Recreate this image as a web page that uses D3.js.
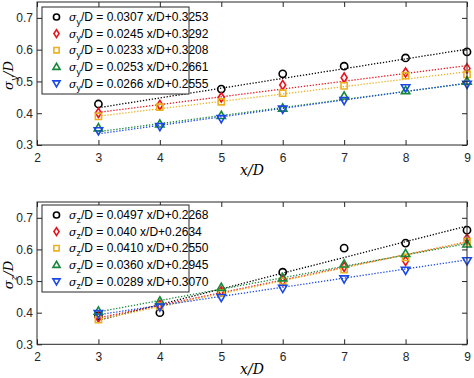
<!DOCTYPE html>
<html><head><meta charset="utf-8">
<script src="https://cdn.jsdelivr.net/npm/d3@7"></script>
<style>body{margin:0;background:#fff}svg{display:block}</style>
</head><body>
<svg id="c" width="474" height="378"></svg>
<script>
const xs = [3, 4, 5, 6, 7, 8, 9];
const xTicks = [2, 3, 4, 5, 6, 7, 8, 9];
const yTicks = [0.3, 0.4, 0.5, 0.6, 0.7];

// sigma_y / D
const syBlack  = [0.429, 0.480, 0.476, 0.524, 0.548, 0.574, 0.593];
const syRed    = [0.401, 0.426, 0.450, 0.489, 0.512, 0.528, 0.541];
const syYellow = [0.390, 0.419, 0.436, 0.463, 0.486, 0.518, 0.522];
const syGreen  = [0.354, 0.366, 0.393, 0.416, 0.454, 0.471, 0.501];
const syBlue   = [0.345, 0.358, 0.383, 0.413, 0.440, 0.480, 0.491];
const syFitSlope = [0.0307, 0.0245, 0.0233, 0.0253, 0.0266];
const syFitIcpt  = [0.3253, 0.3292, 0.3208, 0.2661, 0.2555];
const syLegend = ["0.0307 x/D+0.3253", "0.0245 x/D+0.3292", "0.0233 x/D+0.3208", "0.0253 x/D+0.2661", "0.0266 x/D+0.2555"];

// sigma_z / D
const szBlack  = [0.390, 0.400, 0.465, 0.528, 0.604, 0.620, 0.661];
const szRed    = [0.385, 0.424, 0.468, 0.500, 0.545, 0.564, 0.634];
const szYellow = [0.378, 0.420, 0.463, 0.500, 0.536, 0.575, 0.625];
const szGreen  = [0.405, 0.437, 0.480, 0.510, 0.554, 0.587, 0.617];
const szBlue   = [0.397, 0.418, 0.448, 0.477, 0.507, 0.534, 0.564];
const szFitSlope = [0.0497, 0.040, 0.0410, 0.0360, 0.0289];
const szFitIcpt  = [0.2268, 0.2634, 0.2550, 0.2945, 0.3070];
const szLegend = ["0.0497 x/D+0.2268", "0.040 x/D+0.2634", "0.0410 x/D+0.2550", "0.0360 x/D+0.2945", "0.0289 x/D+0.3070"];

const colors = ["#000000", "#e8141c", "#edb120", "#17873a", "#1a48e6"];
const shapes = ["circle", "diamond", "square", "triUp", "triDown"];

const svg = d3.select("#c");
const axisCol = "#262626";

function marker(g, shape, cx, cy, s, col) {
  let el;
  if (shape === "circle") {
    el = g.append("circle").attr("cx", cx).attr("cy", cy).attr("r", 3.6 * s);
  } else {
    let pts;
    if (shape === "diamond") pts = [[0,-4.6],[3,0],[0,4.6],[-3,0]];
    else if (shape === "square") pts = [[-3.1,-3.1],[3.1,-3.1],[3.1,3.1],[-3.1,3.1]];
    else if (shape === "triUp") pts = [[0,-4.2],[4.2,3],[-4.2,3]];
    else pts = [[0,4.2],[4.2,-3],[-4.2,-3]];
    el = g.append("polygon").attr("points", pts.map(p => [cx + p[0]*s, cy + p[1]*s].join(",")).join(" "));
  }
  el.attr("fill", "none").attr("stroke", col).attr("stroke-width", 1.6);
}

function panel(top, bottom, series, slopes, icpts, legendTexts, sub, legTop) {
  const x = d3.scaleLinear().domain([2, 9]).range([37, 467]);
  const y = d3.scaleLinear().domain([0.3, 0.75]).range([bottom, top]);
  const g = svg.append("g");
  g.append("rect").attr("x", 37).attr("y", top).attr("width", 430).attr("height", bottom - top)
    .attr("fill", "#fff");

  // fit lines
  series.forEach((s, i) => {
    g.append("line")
      .attr("x1", x(3)).attr("y1", y(slopes[i]*3 + icpts[i]))
      .attr("x2", x(9)).attr("y2", y(slopes[i]*9 + icpts[i]))
      .attr("stroke", colors[i]).attr("stroke-width", 1.3)
      .attr("stroke-dasharray", "1.3,1.7");
  });
  // markers
  series.forEach((s, i) => {
    s.forEach((v, j) => marker(g, shapes[i], x(xs[j]), y(v), 1, colors[i]));
  });

  // axes (box, ticks inside)
  const axB = d3.axisBottom(x).tickValues(xTicks).tickSize(-5).tickPadding(8).tickFormat(d3.format("d"));
  const axT = d3.axisTop(x).tickValues(xTicks).tickSize(-5).tickFormat("");
  const axL = d3.axisLeft(y).tickValues(yTicks).tickSize(-5).tickPadding(4).tickFormat(d3.format(".1f"));
  const axR = d3.axisRight(y).tickValues(yTicks).tickSize(-5).tickFormat("");
  const styleAx = a => {
    a.selectAll("path,line").attr("stroke", axisCol).attr("stroke-width", 1);
    a.selectAll("text").attr("fill", axisCol).style("font-family", "'Liberation Sans', Arial, sans-serif").style("font-size", "12px");
    a.select(".domain").attr("d", null);
  };
  styleAx(g.append("g").attr("transform", `translate(0,${bottom})`).call(axB));
  styleAx(g.append("g").attr("transform", `translate(0,${top})`).call(axT));
  styleAx(g.append("g").attr("transform", `translate(37,0)`).call(axL));
  styleAx(g.append("g").attr("transform", `translate(467,0)`).call(axR));
  g.append("rect").attr("x", 37).attr("y", top).attr("width", 430).attr("height", bottom - top)
    .attr("fill", "none").attr("stroke", axisCol).attr("stroke-width", 1);

  // axis labels
  const xl = g.append("text").attr("x", 252).attr("y", bottom + 30)
    .attr("text-anchor", "middle").attr("fill", "#000")
    .style("font-family", "'DejaVu Serif', 'Liberation Serif', serif").style("font-style", "italic").style("font-size", "14px");
  xl.text("x/D");
  const yl = g.append("text").attr("transform", `translate(13,${(top + bottom)/2 + 2}) rotate(-90)`)
    .attr("text-anchor", "middle").attr("fill", "#000")
    .style("font-family", "'DejaVu Serif', 'Liberation Serif', serif").style("font-style", "italic").style("font-size", "13px");
  yl.append("tspan").text("σ");
  yl.append("tspan").attr("dy", 3.5).style("font-size", "9px").text(sub);
  yl.append("tspan").attr("dy", -3.5).text("/D");

  // legend
  const lg = g.append("g");
  lg.append("rect").attr("x", 42).attr("y", legTop).attr("width", 147).attr("height", 87)
    .attr("fill", "#fff").attr("stroke", axisCol).attr("stroke-width", 1);
  legendTexts.forEach((t, i) => {
    const cy = legTop + 10 + i * 16.6;
    marker(lg, shapes[i], 56.5, cy, 0.85, colors[i]);
    const tx = lg.append("text").attr("x", 69).attr("y", cy + 4.2).attr("fill", "#000")
      .style("font-family", "'Liberation Sans', Arial, sans-serif").style("font-size", "12px");
    tx.append("tspan").style("font-style", "italic").style("font-family", "'DejaVu Serif', serif").style("font-size", "11px").text("σ");
    tx.append("tspan").attr("dy", 3.5).style("font-size", "9px").text(sub);
    tx.append("tspan").attr("dy", -3.5).text("/D = " + t);
  });
}

panel(2, 145, [syBlack, syRed, syYellow, syGreen, syBlue], syFitSlope, syFitIcpt, syLegend, "y", 7);
panel(202, 344.3, [szBlack, szRed, szYellow, szGreen, szBlue], szFitSlope, szFitIcpt, szLegend, "z", 205);
</script>
</body></html>
